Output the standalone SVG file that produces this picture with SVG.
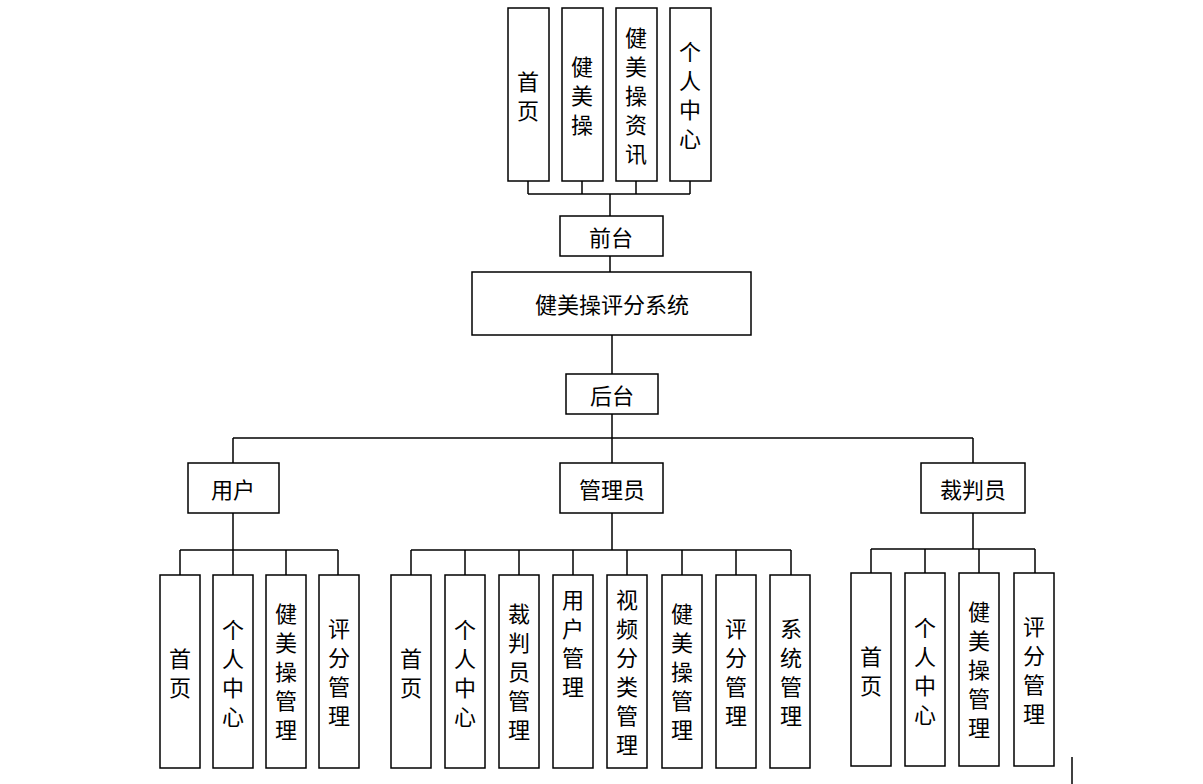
<svg xmlns="http://www.w3.org/2000/svg" width="1203" height="784" viewBox="0 0 1203 784">
<style>
rect{fill:#fff;stroke:#000;stroke-width:1.5}
line,polyline{stroke:#000;stroke-width:1.5;fill:none}
text{font-family:"Noto Sans CJK SC",sans-serif;font-size:22px;fill:#000;text-anchor:middle;dominant-baseline:central}
</style>
<rect width="1203" height="784" style="stroke:none"/>
<g id="connectors">
<line x1="528" y1="181" x2="528" y2="194"/><line x1="582" y1="181" x2="582" y2="194"/><line x1="636" y1="181" x2="636" y2="194"/><line x1="690" y1="181" x2="690" y2="194"/>
<line x1="528" y1="194" x2="690" y2="194"/><line x1="610" y1="194" x2="610" y2="216"/>
<line x1="610" y1="256" x2="610" y2="272"/><line x1="612" y1="335" x2="612" y2="374"/>
<line x1="612" y1="414" x2="612" y2="463"/><line x1="233" y1="438" x2="973" y2="438"/>
<line x1="233" y1="438" x2="233" y2="463"/><line x1="973" y1="438" x2="973" y2="463"/>
<line x1="233" y1="513" x2="233" y2="550"/><line x1="180" y1="550" x2="338" y2="550"/>
<line x1="180" y1="550" x2="180" y2="575"/><line x1="233" y1="550" x2="233" y2="575"/><line x1="286" y1="550" x2="286" y2="575"/><line x1="338" y1="550" x2="338" y2="575"/>
<line x1="612" y1="513" x2="612" y2="550"/><line x1="411" y1="550" x2="791" y2="550"/>
<line x1="411" y1="550" x2="411" y2="575"/><line x1="465" y1="550" x2="465" y2="575"/><line x1="519" y1="550" x2="519" y2="575"/><line x1="573" y1="550" x2="573" y2="575"/><line x1="627" y1="550" x2="627" y2="575"/><line x1="682" y1="550" x2="682" y2="575"/><line x1="736" y1="550" x2="736" y2="575"/><line x1="791" y1="550" x2="791" y2="575"/>
<line x1="973" y1="513" x2="973" y2="549"/><line x1="871" y1="549" x2="1035" y2="549"/>
<line x1="871" y1="549" x2="871" y2="573"/><line x1="925" y1="549" x2="925" y2="573"/><line x1="979" y1="549" x2="979" y2="573"/><line x1="1035" y1="549" x2="1035" y2="573"/>
</g>
<g id="top1"><rect x="508" y="8" width="41" height="173"/><text x="528"><tspan x="528" y="80">首</tspan><tspan x="528" y="109">页</tspan></text></g>
<g id="top2"><rect x="562" y="8" width="41" height="173"/><text><tspan x="582" y="65">健</tspan><tspan x="582" y="94">美</tspan><tspan x="582" y="123">操</tspan></text></g>
<g id="top3"><rect x="616" y="8" width="41" height="173"/><text><tspan x="636" y="36">健</tspan><tspan x="636" y="65">美</tspan><tspan x="636" y="94">操</tspan><tspan x="636" y="123">资</tspan><tspan x="636" y="152">讯</tspan></text></g>
<g id="top4"><rect x="670" y="8" width="41" height="173"/><text><tspan x="690" y="50">个</tspan><tspan x="690" y="79">人</tspan><tspan x="690" y="108">中</tspan><tspan x="690" y="137">心</tspan></text></g>
<g id="qiantai"><rect x="560" y="216" width="103" height="40"/><text x="611" y="236">前台</text></g>
<g id="system"><rect x="472" y="272" width="279" height="63"/><text x="612" y="303">健美操评分系统</text></g>
<g id="houtai"><rect x="566" y="374" width="92" height="40"/><text x="612" y="394">后台</text></g>
<g id="user"><rect x="188" y="463" width="91" height="50"/><text x="233" y="488">用户</text></g>
<g id="admin"><rect x="560" y="463" width="103" height="50"/><text x="612" y="488">管理员</text></g>
<g id="judge"><rect x="921" y="463" width="104" height="50"/><text x="973" y="488">裁判员</text></g>
<g id="u1"><rect x="160" y="575" width="40" height="193"/><text><tspan x="180" y="657">首</tspan><tspan x="180" y="686">页</tspan></text></g>
<g id="u2"><rect x="213" y="575" width="40" height="193"/><text><tspan x="233" y="628">个</tspan><tspan x="233" y="657">人</tspan><tspan x="233" y="686">中</tspan><tspan x="233" y="715">心</tspan></text></g>
<g id="u3"><rect x="266" y="575" width="40" height="193"/><text><tspan x="286" y="612">健</tspan><tspan x="286" y="641">美</tspan><tspan x="286" y="670">操</tspan><tspan x="286" y="699">管</tspan><tspan x="286" y="728">理</tspan></text></g>
<g id="u4"><rect x="319" y="575" width="40" height="193"/><text><tspan x="339" y="627">评</tspan><tspan x="339" y="656">分</tspan><tspan x="339" y="685">管</tspan><tspan x="339" y="714">理</tspan></text></g>
<g id="a1"><rect x="391" y="575" width="40" height="193"/><text><tspan x="411" y="657">首</tspan><tspan x="411" y="686">页</tspan></text></g>
<g id="a2"><rect x="445" y="575" width="40" height="193"/><text><tspan x="465" y="628">个</tspan><tspan x="465" y="657">人</tspan><tspan x="465" y="686">中</tspan><tspan x="465" y="715">心</tspan></text></g>
<g id="a3"><rect x="499" y="575" width="40" height="193"/><text><tspan x="519" y="612">裁</tspan><tspan x="519" y="641">判</tspan><tspan x="519" y="670">员</tspan><tspan x="519" y="699">管</tspan><tspan x="519" y="728">理</tspan></text></g>
<g id="a4"><rect x="553" y="575" width="40" height="193"/><text><tspan x="573" y="598">用</tspan><tspan x="573" y="627">户</tspan><tspan x="573" y="656">管</tspan><tspan x="573" y="685">理</tspan></text></g>
<g id="a5"><rect x="607" y="575" width="40" height="193"/><text><tspan x="627" y="598">视</tspan><tspan x="627" y="627">频</tspan><tspan x="627" y="656">分</tspan><tspan x="627" y="685">类</tspan><tspan x="627" y="714">管</tspan><tspan x="627" y="743">理</tspan></text></g>
<g id="a6"><rect x="662" y="575" width="40" height="193"/><text><tspan x="682" y="612">健</tspan><tspan x="682" y="641">美</tspan><tspan x="682" y="670">操</tspan><tspan x="682" y="699">管</tspan><tspan x="682" y="728">理</tspan></text></g>
<g id="a7"><rect x="716" y="575" width="40" height="193"/><text><tspan x="736" y="627">评</tspan><tspan x="736" y="656">分</tspan><tspan x="736" y="685">管</tspan><tspan x="736" y="714">理</tspan></text></g>
<g id="a8"><rect x="770" y="575" width="40" height="193"/><text><tspan x="791" y="627">系</tspan><tspan x="791" y="656">统</tspan><tspan x="791" y="685">管</tspan><tspan x="791" y="714">理</tspan></text></g>
<g id="j1"><rect x="851" y="573" width="40" height="193"/><text><tspan x="871" y="655">首</tspan><tspan x="871" y="684">页</tspan></text></g>
<g id="j2"><rect x="905" y="573" width="40" height="193"/><text><tspan x="925" y="626">个</tspan><tspan x="925" y="655">人</tspan><tspan x="925" y="684">中</tspan><tspan x="925" y="713">心</tspan></text></g>
<g id="j3"><rect x="959" y="573" width="40" height="193"/><text><tspan x="979" y="610">健</tspan><tspan x="979" y="639">美</tspan><tspan x="979" y="668">操</tspan><tspan x="979" y="697">管</tspan><tspan x="979" y="726">理</tspan></text></g>
<g id="j4"><rect x="1014" y="573" width="40" height="193"/><text><tspan x="1034" y="625">评</tspan><tspan x="1034" y="654">分</tspan><tspan x="1034" y="683">管</tspan><tspan x="1034" y="712">理</tspan></text></g>
<line x1="1072" y1="757" x2="1072" y2="784"/>
</svg>
